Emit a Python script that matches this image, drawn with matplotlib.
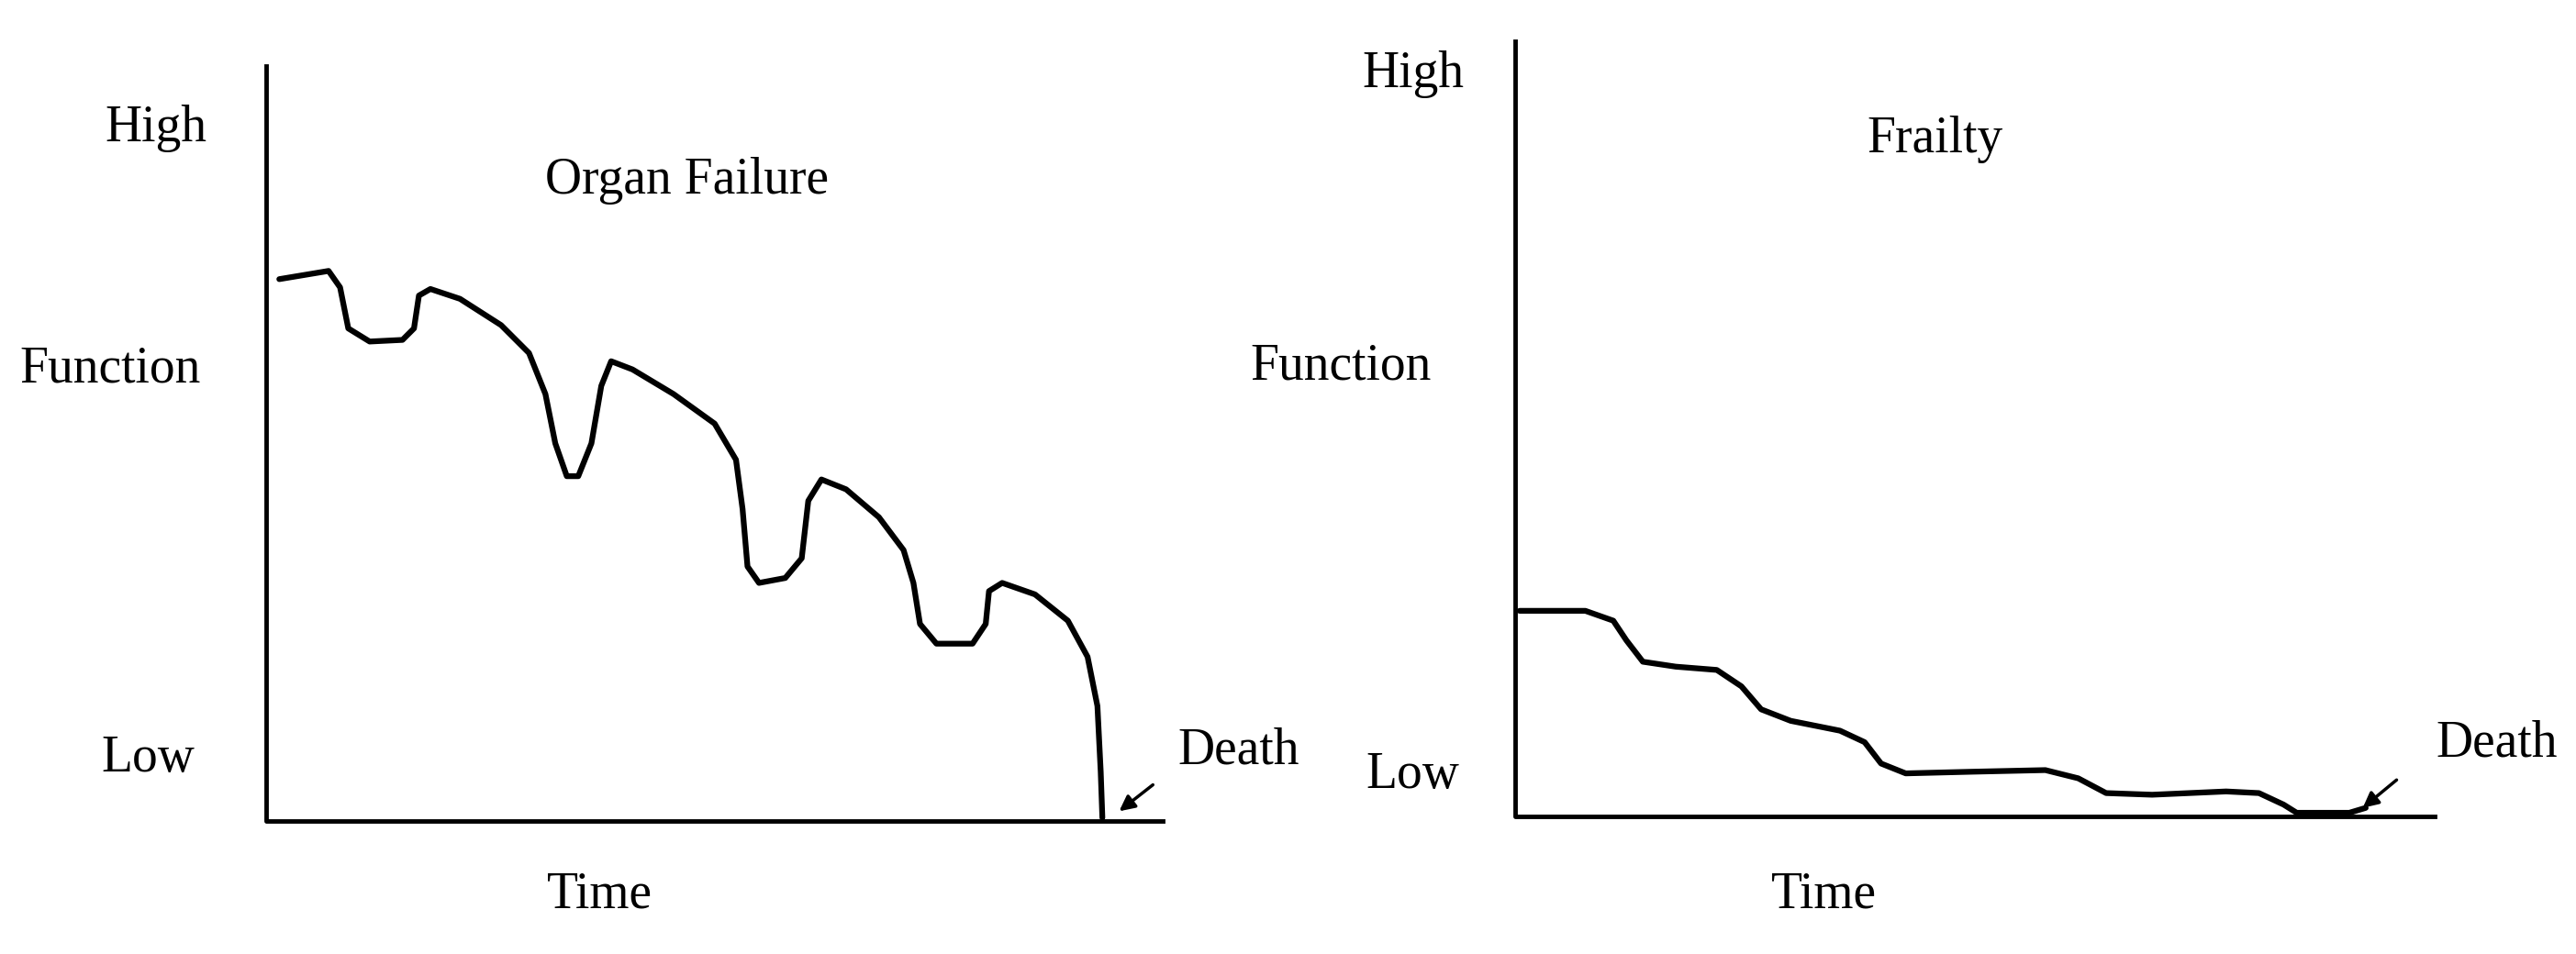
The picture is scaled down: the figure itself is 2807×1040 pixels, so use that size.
import matplotlib
matplotlib.use("Agg")
import matplotlib.pyplot as plt

# Curves in reference display coordinates (1568 x 581 canvas)
organ_x = [170,200,207,212,225,245,252,255,262,280,305,322,332,338,345,352,360,366,372,385,410,435,448,452,455,462,478,488,492,500,515,535,550,556,560,570,592,600,602,610,630,650,662,668,670,671]
organ_y = [170,165,175,200,208,207,200,180,176,182,198,215,240,270,290,290,270,235,220,225,240,258,280,310,345,355,352,340,305,292,298,315,335,355,380,392,392,380,360,355,362,378,400,430,470,498]
frail_x = [925,965,982,990,1000,1020,1045,1060,1072,1090,1120,1135,1145,1160,1200,1245,1265,1282,1310,1355,1375,1390,1398,1430,1440]
frail_y = [372,372,378,390,403,406,408,418,432,439,445,452,465,471,470,469,474,483,484,482,483,490,495,495,492]

fig = plt.figure(figsize=(28.07, 10.40), dpi=100)
ax = fig.add_axes([0, 0, 1, 1])
ax.set_xlim(0, 1568); ax.set_ylim(581, 0); ax.axis("off")
plt.rcParams['font.family'] = ['Liberation Serif']
fs = 40

# axes
ax.plot([162, 162, 708], [40, 500, 500], color="black", lw=3.5)
ax.plot([922, 922, 1482], [25, 497, 497], color="black", lw=3.5)
ax.plot(organ_x, organ_y, color="black", lw=4.5, solid_joinstyle="round", solid_capstyle="round")
ax.plot(frail_x, frail_y, color="black", lw=4.5, solid_joinstyle="round", solid_capstyle="round")

texts = [("High", 95, 78), ("Function", 67, 225), ("Low", 90, 462), ("Organ Failure", 418, 110), ("Time", 365, 545),
         ("High", 860, 45), ("Function", 816, 223), ("Low", 860, 472), ("Frailty", 1178, 85), ("Time", 1110, 545),
         ("Death", 754, 457), ("Death", 1520, 453)]
for t, x, y in texts:
    ax.text(x, y, t, fontsize=fs, ha="center", va="center")

ax.annotate("", xy=(680, 495), xytext=(703, 477), arrowprops=dict(arrowstyle="-|>", color="black", lw=2.5, mutation_scale=25))
ax.annotate("", xy=(1437, 493), xytext=(1460, 474), arrowprops=dict(arrowstyle="-|>", color="black", lw=2.5, mutation_scale=25))

fig.savefig("out.png", dpi=100)
